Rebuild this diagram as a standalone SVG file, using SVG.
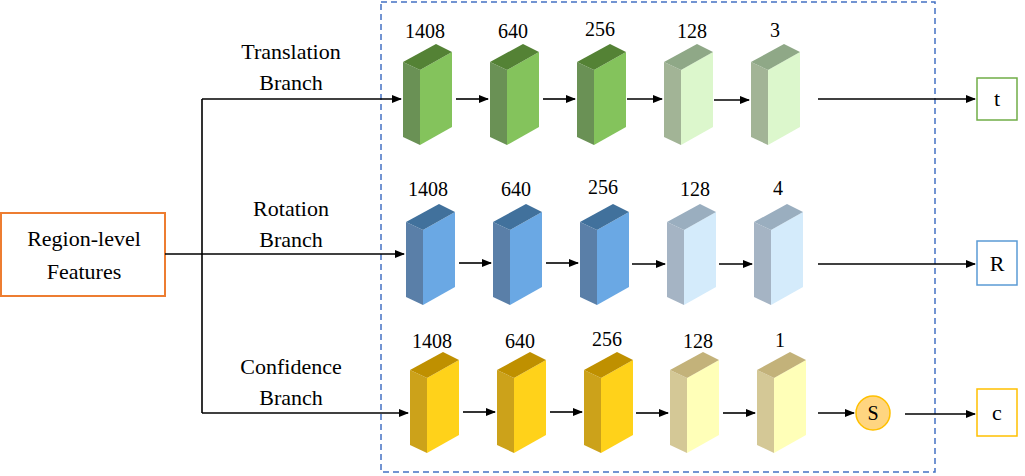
<svg xmlns="http://www.w3.org/2000/svg" width="1025" height="476" viewBox="0 0 1025 476">
<style>
text{fill:#000;text-anchor:middle;font-family:"Liberation Serif","Times New Roman","DejaVu Serif","Noto Serif",serif}
.lbl{font-size:22px}.num{font-size:20px}
.ln{stroke:#000;stroke-width:1.6;fill:none}
.g{--s:#6a9155;--f:#84c35c;--t:#548235}
.lg{--s:#a2b496;--f:#dcf7cc;--t:#8fa887}
.b{--s:#5a7fa8;--f:#6aa8e4;--t:#41719c}
.lb{--s:#a5b4c4;--f:#d4ebfb;--t:#9aaebf}
.y{--s:#cca21a;--f:#ffd21a;--t:#bf9000}
.ly{--s:#d4c896;--f:#ffffb8;--t:#c3b27a}
</style>
<defs>
<marker id="ah" markerWidth="10" markerHeight="8" refX="9" refY="4" orient="auto" markerUnits="userSpaceOnUse"><path d="M0,0L10,4L0,8z" fill="#000"/></marker>
<g id="blk"><path style="fill:var(--s)" d="M0,0L17,8L17,83L0,75z"/><path style="fill:var(--f)" d="M17,8L49,-10L49,65L17,83z"/><path style="fill:var(--t)" d="M0,0L17,8L49,-10L33,-18z"/></g>
</defs>
<rect x="381" y="2" width="554" height="470" fill="none" stroke="#4472c4" stroke-width="1.5" stroke-dasharray="6,4"/>
<g id="region"><rect x="1" y="213" width="164" height="83" fill="#fff" stroke="#ed7d31" stroke-width="2"/><text class="lbl" x="84" y="246">Region-level</text><text class="lbl" x="84" y="279">Features</text></g>
<g id="labels">
<text class="lbl" x="291" y="59">Translation</text><text class="lbl" x="291" y="90">Branch</text>
<text class="lbl" x="291" y="216">Rotation</text><text class="lbl" x="291" y="247">Branch</text>
<text class="lbl" x="291" y="374">Confidence</text><text class="lbl" x="291" y="405">Branch</text>
</g>
<g id="translation">
<use href="#blk" class="g" x="403" y="62"/><use href="#blk" class="g" x="490" y="62"/><use href="#blk" class="g" x="577" y="62"/><use href="#blk" class="lg" x="664" y="62"/><use href="#blk" class="lg" x="751" y="62"/>
<text class="num" x="425" y="38">1408</text><text class="num" x="513" y="38">640</text><text class="num" x="600" y="36">256</text><text class="num" x="692" y="38">128</text><text class="num" x="775" y="37">3</text>
</g>
<g id="rotation">
<use href="#blk" class="b" x="406" y="222"/><use href="#blk" class="b" x="493" y="222"/><use href="#blk" class="b" x="580" y="222"/><use href="#blk" class="lb" x="667" y="222"/><use href="#blk" class="lb" x="754" y="222"/>
<text class="num" x="428" y="196">1408</text><text class="num" x="516" y="196">640</text><text class="num" x="603" y="194">256</text><text class="num" x="695" y="196">128</text><text class="num" x="778" y="195">4</text>
</g>
<g id="confidence">
<use href="#blk" class="y" x="410" y="370"/><use href="#blk" class="y" x="497" y="370"/><use href="#blk" class="y" x="584" y="370"/><use href="#blk" class="ly" x="670" y="370"/><use href="#blk" class="ly" x="757" y="370"/>
<text class="num" x="432" y="348">1408</text><text class="num" x="520" y="348">640</text><text class="num" x="607" y="346">256</text><text class="num" x="698" y="348">128</text><text class="num" x="780" y="347">1</text>
</g>
<g id="sigmoid"><circle cx="873" cy="413" r="17" fill="#ffd580" stroke="#ffc000" stroke-width="1.5"/><text class="num" x="873" y="420">S</text></g>
<g id="out-t"><rect x="977" y="78" width="40" height="42" fill="#fff" stroke="#70ad47" stroke-width="1.5"/><text class="lbl" x="997" y="106">t</text></g>
<g id="out-R"><rect x="977" y="241" width="40" height="44" fill="#fff" stroke="#5b9bd5" stroke-width="1.5"/><text class="lbl" x="997" y="271">R</text></g>
<g id="out-c"><rect x="977" y="389" width="40" height="47" fill="#fff" stroke="#ffc000" stroke-width="1.5"/><text class="lbl" x="997" y="420">c</text></g>
<g id="connectors" class="ln">
<path d="M165,254H202M202,99V413"/>
<path d="M202,99H401" marker-end="url(#ah)"/>
<path d="M202,254H404" marker-end="url(#ah)"/>
<path d="M202,413H408" marker-end="url(#ah)"/>
<path d="M456,99H488" marker-end="url(#ah)"/><path d="M543,99H575" marker-end="url(#ah)"/><path d="M627,99H662" marker-end="url(#ah)"/><path d="M714,100H749" marker-end="url(#ah)"/><path d="M818,99H975" marker-end="url(#ah)"/>
<path d="M459,263H491" marker-end="url(#ah)"/><path d="M546,263H578" marker-end="url(#ah)"/><path d="M632,264H665" marker-end="url(#ah)"/><path d="M719,264H752" marker-end="url(#ah)"/><path d="M818,264H975" marker-end="url(#ah)"/>
<path d="M463,412H495" marker-end="url(#ah)"/><path d="M550,412H582" marker-end="url(#ah)"/><path d="M636,413H668" marker-end="url(#ah)"/><path d="M723,413H755" marker-end="url(#ah)"/><path d="M818,413H854" marker-end="url(#ah)"/><path d="M905,414H975" marker-end="url(#ah)"/>
</g>
</svg>
